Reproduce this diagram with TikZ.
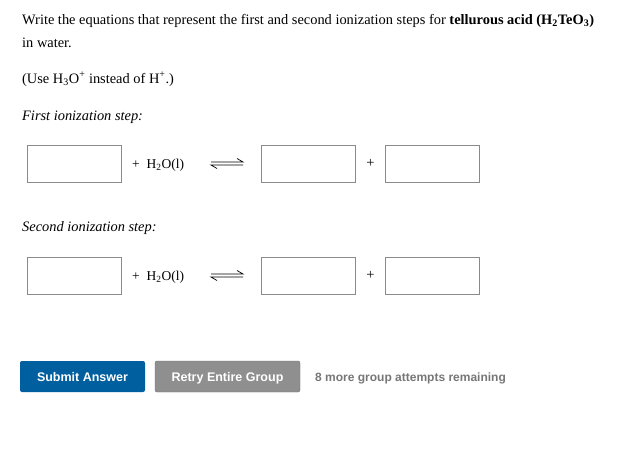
\documentclass[tikz,border=0pt]{standalone}
\usepackage{fontspec}
\setmainfont{Liberation Serif}
\newfontfamily\btnfont{Liberation Sans}
\usetikzlibrary{positioning}
\definecolor{boxgray}{HTML}{8A8A8A}
\definecolor{submitblue}{HTML}{005F9E}
\definecolor{retrygray}{HTML}{8F8F8F}
\definecolor{notegray}{HTML}{777777}
\newcommand{\sbs}[1]{\textsubscript{#1}}
\newcommand{\sps}[1]{\textsuperscript{#1}}
\tikzset{
    ansbox/.style={draw=boxgray, line width=0.8pt, minimum width=94pt, minimum height=37pt, inner sep=0pt},
    txt/.style={anchor=base west, inner sep=0pt, font=\fontsize{14.4}{17}\selectfont},
    btn/.style={rounded corners=2pt, minimum height=31pt, inner sep=0pt, text depth=0pt, text height=9pt, text=white, font=\btnfont\bfseries\fontsize{12.5}{14}\selectfont}
}
\begin{document}
\begin{tikzpicture}[x=1pt, y=-1pt]
    \useasboundingbox[fill=white] (0,0) rectangle (637,474);
    \node[txt] (q1) at (22,24) {Write the equations that represent the first and second ionization steps for \textbf{tellurous acid (H\sbs{2}TeO\sbs{3})}};
    \node[txt] (q2) at (22,47) {in water.};
    \node[txt] (hint) at (22,83) {(Use H\sbs{3}O\sps{+} instead of H\sps{+}.)};
    \node[txt] (s1) at (22,120) {\itshape First ionization step:};
    \node[txt] (s2) at (22,231) {\itshape Second ionization step:};
    % the two equations
    \foreach \row/\y in {a/163.5, b/275.5} {
        \node[ansbox] (\row1) at (74,\y) {};
        \node[txt, font=\fontsize{13.5}{17}\selectfont] (\row w) at (132,\y+5) {+\ \ H\sbs{2}O(l)};
        \coordinate (\row l) at (211,\y);
        \coordinate (\row r) at (243,\y);
        \draw[line width=0.7pt] ([yshift=1.5pt]\row l) -- ([yshift=1.5pt]\row r) -- ++(-6,-3.5);
        \draw[line width=0.7pt] ([yshift=-1.5pt]\row r) -- ([yshift=-1.5pt]\row l) -- ++(6,3.5);
        \node[ansbox] (\row2) at (308.5,\y) {};
        \node[txt, anchor=center] (\row p) at (370.5,\y) {+};
        \node[ansbox] (\row3) at (432.5,\y) {};
    }
    % buttons
    \node[btn, fill=submitblue, minimum width=125pt] (submit) at (82.5,376.5) {Submit Answer};
    \node[btn, fill=retrygray, minimum width=145pt, draw=retrygray!80!black, line width=0.4pt] (retry) at (227.5,376.5) {Retry Entire Group};
    \node[anchor=west, inner sep=0pt, text depth=0pt, text height=9pt, text=notegray, font=\btnfont\bfseries\fontsize{12}{14}\selectfont] (note) at (315,376.5) {8 more group attempts remaining};
\end{tikzpicture}
\end{document}
